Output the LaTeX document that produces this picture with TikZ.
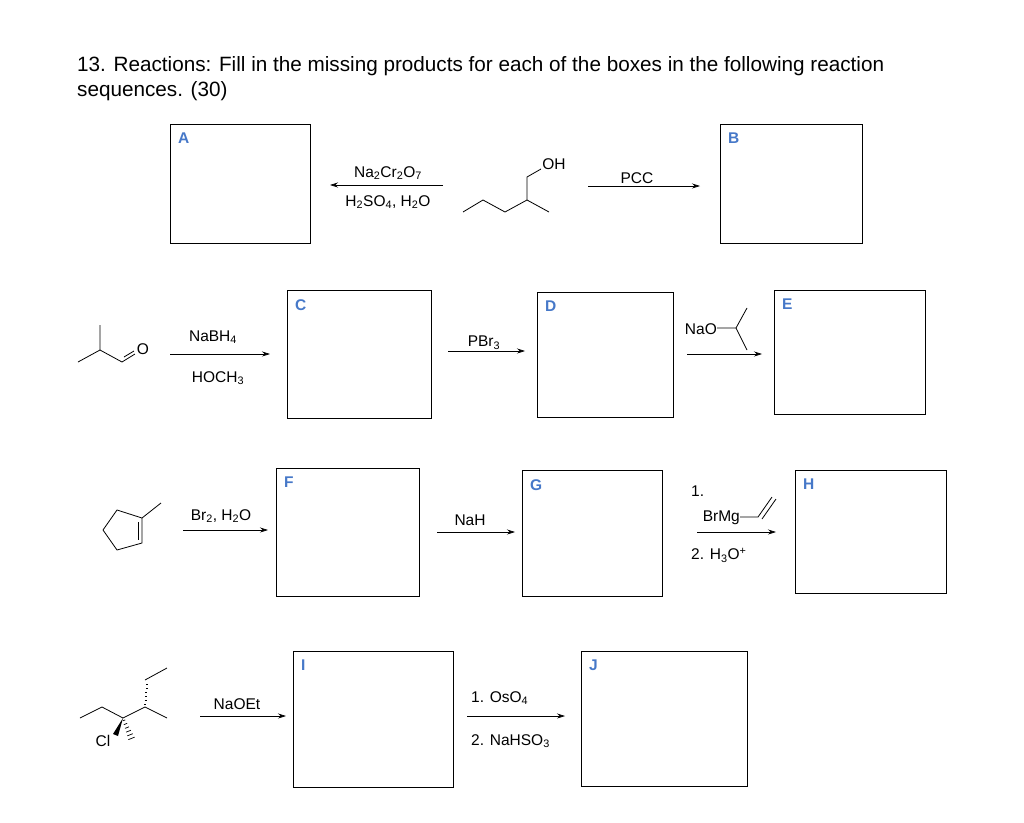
\documentclass[tikz,border=0pt]{standalone}
\usepackage{fontspec}
\setmainfont{Liberation Sans}
\usetikzlibrary{arrows.meta,calc}
\definecolor{lblue}{RGB}{70,120,200}
\newcommand{\sbs}[1]{\textsubscript{#1}}
\newcommand{\sps}[1]{\textsuperscript{#1}}
\begin{document}
\begin{tikzpicture}[x=1pt,y=-1pt,
  box/.style={draw,line width=0.8pt},
  lab/.style={anchor=north west,text=lblue,font=\bfseries\fontsize{15.5}{18}\selectfont,inner sep=0pt},
  rg/.style={font=\fontsize{15.5}{18}\selectfont,inner sep=0pt},
  rx/.style={-{Stealth[length=8pt,width=5pt]},line width=0.7pt},
  bd/.style={line width=0.8pt}]
\useasboundingbox (0,0) rectangle (1024,822);
\node[anchor=west,align=left,font=\fontsize{20.7}{25}\selectfont,inner sep=0pt] (title) at (77,79) {13. Reactions: Fill in the missing products for each of the boxes in the following reaction\\sequences. (30)};
% boxes
\foreach \n/\a/\b/\c/\d in {A/170/124/310/243,B/720/124/862/243,C/287/290/431/418,D/537/292/673/417,E/774/290/925/414,F/276/468/419/596,G/522/470/662/596,H/795/470/946/593,I/293/651/453/787,J/581/651/747/786}{
  \draw[box] (\a,\b) rectangle (\c,\d);
  \node[lab] (lab\n) at (\a+8,\b+9) {\n};
}
% row 1
\coordinate (a1s) at (443,185); \coordinate (a1e) at (330,185);
\draw[rx] (a1s) -- (a1e);
\node[rg] (r1a) at (388,173) {Na\sbs{2}Cr\sbs{2}O\sbs{7}};
\node[rg] (r1b) at (388,202) {H\sbs{2}SO\sbs{4}, H\sbs{2}O};
\draw[bd] (463,212)--(483,200)--(505,212)--(527,200)--(527,177)--(541,169);
\draw[bd] (527,200)--(549,212);
\node[rg] (oh) at (554,164) {OH};
\coordinate (a2s) at (588,186); \coordinate (a2e) at (700,186);
\draw[rx] (a2s) -- (a2e);
\node[rg] (pcc) at (637,178) {PCC};
% row 2
\draw[bd] (78,362)--(100,350)--(100,325);
\draw[bd] (100,350)--(122,362)--(135,354);
\draw[bd] (124,357)--(134,351);
\node[rg] (o1) at (143,349) {O};
\draw[rx] (170,354) -- (270,354);
\node[rg] (nabh) at (213,337) {NaBH\sbs{4}};
\node[rg] (hoch) at (218,378) {HOCH\sbs{3}};
\draw[rx] (448,351) -- (525,351);
\node[rg] (pbr) at (484,343) {PBr\sbs{3}};
\node[rg,anchor=east] (nao) at (717,329) {NaO};
\draw[bd] (717,328)--(736,328)--(747,308);
\draw[bd] (736,328)--(747,350);
\draw[rx] (687,354) -- (762,354);
% row 3
\draw[bd] (117,510)--(103,530)--(117,550)--(142,543)--(142,518)--cycle;
\draw[bd] (142,518)--(161,503);
\draw[bd] (138,522)--(138,540);
\draw[rx] (183,530) -- (268,530);
\node[rg] (br2) at (221,516) {Br\sbs{2}, H\sbs{2}O};
\draw[rx] (437,532) -- (515,532);
\node[rg] (nah) at (470,520) {NaH};
\node[rg,anchor=west] (s1) at (691,491) {1.};
\node[rg,anchor=east] (brmg) at (740,518) {BrMg};
\draw[bd] (740,517)--(758,517)--(772,497);
\draw[bd] (762,519)--(776,499);
\draw[rx] (697,532) -- (776,532);
\node[rg,anchor=west] (s2) at (691,555) {2. H\sbs{3}O\sps{+}};
% row 4
\draw[bd] (80,718)--(102,707)--(123,718)--(145,707)--(167,718);
\draw[bd] (145,680)--(167,668);
\foreach \t in {0.1,0.25,0.4,0.55,0.7,0.85}{
  \draw[line width=0.7pt] ($(145,707)!\t!(145,680)+(-{1+2.5*\t},0)$)--($(145,707)!\t!(145,680)+({1+2.5*\t},0)$);
  \draw[line width=0.7pt] ($(123,718)!\t!(133,742)+({-1-2.5*\t},{0.4+1*\t})$)--($(123,718)!\t!(133,742)+({1+2.5*\t},{-0.4-1*\t})$);
}
\fill (123,718)--(113,734)--(118,736)--cycle;
\node[rg] (cl) at (103,741) {Cl};
\draw[rx] (200,716) -- (286,716);
\node[rg] (naoet) at (237,704) {NaOEt};
\draw[rx] (467,716) -- (565,716);
\node[rg,anchor=west] (os) at (471,698) {1. OsO\sbs{4}};
\node[rg,anchor=west] (nahs) at (471,741) {2. NaHSO\sbs{3}};
\end{tikzpicture}
\end{document}
